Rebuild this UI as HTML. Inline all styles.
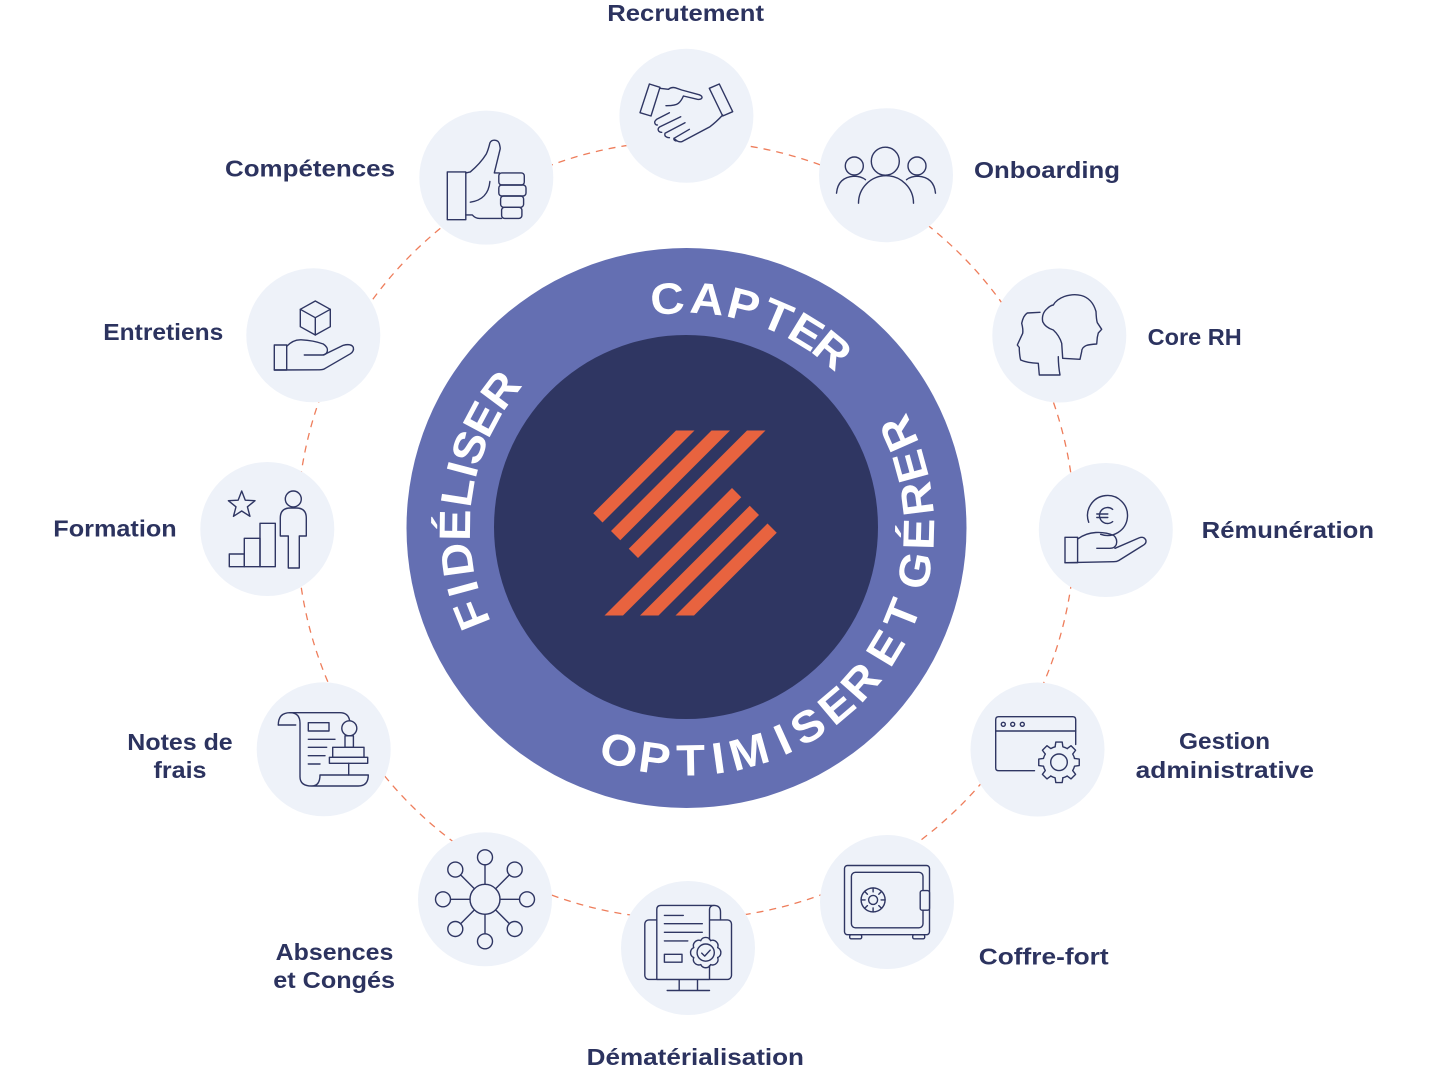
<!DOCTYPE html>
<html>
<head>
<meta charset="utf-8">
<style>
html,body{margin:0;padding:0;background:#ffffff;}
svg{display:block;}
.lbl{font-family:"Liberation Sans",Arial,sans-serif;font-weight:bold;font-size:23px;fill:#2c335f;}
.ring{font-family:"Liberation Sans",Arial,sans-serif;font-weight:bold;font-size:44px;fill:#ffffff;}
.ic{fill:none;stroke:#2f3663;stroke-width:1.4;stroke-linecap:round;stroke-linejoin:round;}
</style>
</head>
<body>
<svg width="1431" height="1078" viewBox="0 0 1431 1078" xmlns="http://www.w3.org/2000/svg">
<defs>
  <path id="tooth" d="M15.52,-3.87 L20.25,-3.21 L20.25,3.21 L15.52,3.87 A16 16 0 0 1 13.72,8.24"/>
  <path id="scal" d="M12.01,-4.97 A5.5 5.5 0 0 1 12.01,4.97"/>
</defs>

<!-- dashed orbit -->
<circle cx="686" cy="530" r="389" fill="none" stroke="#ee7d5b" stroke-width="1.3" stroke-dasharray="7 6"/>

<!-- central ring -->
<circle cx="686.5" cy="528" r="280" fill="#646fb2"/>
<circle cx="686" cy="527" r="192" fill="#2f3662"/>

<!-- logo stripes -->
<g fill="#e8633f">
  <polygon points="676,430.5 694.5,430.5 602.5,522.5 593.25,513.25"/>
  <polygon points="711.5,430.5 730,430.5 620.25,540.25 611,531"/>
  <polygon points="747,430.5 765.5,430.5 638,558 628.75,548.75"/>
  <polygon points="623,615.5 604.5,615.5 732,488 741.25,497.25"/>
  <polygon points="658.5,615.5 640,615.5 749.75,505.75 759,515"/>
  <polygon points="694,615.5 675.5,615.5 767.5,523.5 776.75,532.75"/>
</g>

<!-- ring text -->
<g transform="translate(686.5,528)" class="ring" text-anchor="middle">
  <text transform="rotate(-4.8) scale(1.07,1)" y="-215">C</text>
  <text transform="rotate(5.2) scale(1.07,1)" y="-215">A</text>
  <text transform="rotate(14.4) scale(1.07,1)" y="-215">P</text>
  <text transform="rotate(23.2) scale(1.07,1)" y="-215">T</text>
  <text transform="rotate(31.4) scale(1.07,1)" y="-215">E</text>
  <text transform="rotate(39.3) scale(1.07,1)" y="-215">R</text>

  <text transform="rotate(248.1) scale(1.07,1)" y="-216.5">F</text>
  <text transform="rotate(254.8) scale(1.07,1)" y="-216.5">I</text>
  <text transform="rotate(262.1) scale(1.07,1)" y="-216.5">D</text>
  <text transform="rotate(270.7) scale(1.07,1)" y="-216.5">É</text>
  <text transform="rotate(279) scale(1.07,1)" y="-216.5">L</text>
  <text transform="rotate(284.7) scale(1.07,1)" y="-216.5">I</text>
  <text transform="rotate(290.4) scale(1.07,1)" y="-216.5">S</text>
  <text transform="rotate(298.1) scale(1.07,1)" y="-216.5">E</text>
  <text transform="rotate(306.6) scale(1.07,1)" y="-216.5">R</text>

  <text transform="rotate(16.9) scale(1.07,1)" y="247.5">O</text>
  <text transform="rotate(7.9) scale(1.07,1)" y="247.5">P</text>
  <text transform="rotate(-1) scale(1.07,1)" y="247.5">T</text>
  <text transform="rotate(-7.9) scale(1.07,1)" y="247.5">I</text>
  <text transform="rotate(-15.6) scale(1.07,1)" y="247.5">M</text>
  <text transform="rotate(-24.5) scale(1.07,1)" y="247.5">I</text>
  <text transform="rotate(-31.5) scale(1.07,1)" y="247.5">S</text>
  <text transform="rotate(-40.2) scale(1.07,1)" y="247.5">E</text>
  <text transform="rotate(-48.5) scale(1.07,1)" y="247.5">R</text>
  <text transform="rotate(-58.9) scale(1.07,1)" y="247.5">E</text>
  <text transform="rotate(-68.1) scale(1.07,1)" y="247.5">T</text>
  <text transform="rotate(-79.5) scale(1.07,1)" y="247.5">G</text>
  <text transform="rotate(-88.5) scale(1.07,1)" y="247.5">É</text>
  <text transform="rotate(-97.2) scale(1.07,1)" y="247.5">R</text>
  <text transform="rotate(-105.4) scale(1.07,1)" y="247.5">E</text>
  <text transform="rotate(-114) scale(1.07,1)" y="247.5">R</text>
</g>

<!-- satellite circles -->
<g fill="#eef2f9">
  <circle cx="686.4" cy="115.8" r="67"/>
  <circle cx="886" cy="175.2" r="67"/>
  <circle cx="1059.3" cy="335.5" r="67"/>
  <circle cx="1105.8" cy="530" r="67"/>
  <circle cx="1037.5" cy="749.5" r="67"/>
  <circle cx="887" cy="902" r="67"/>
  <circle cx="688" cy="948" r="67"/>
  <circle cx="485" cy="899.3" r="67"/>
  <circle cx="323.7" cy="749.3" r="67"/>
  <circle cx="267.3" cy="529" r="67"/>
  <circle cx="313.3" cy="335.3" r="67"/>
  <circle cx="486.3" cy="177.6" r="67"/>
</g>

<!-- Recrutement: handshake -->
<g class="ic" transform="translate(686.4,115.8)">
  <polygon points="-37,-31.8 -26.4,-28.5 -35.4,0.2 -46.4,-3.1"/>
  <polygon points="22.9,-27.5 32.9,-31.8 46.3,-4.1 36.3,0.2"/>
  <path d="M-26.4,-27.5 L-18,-26.5 Q-15,-29 -11,-28 L-4.7,-25.8 L13,-21 Q16.5,-19.5 15.3,-17.5 Q14,-16 11,-16.5 L-3,-19.8 Q-5,-15 -8,-12.5 Q-11,-10 -20.4,-10.1"/>
  <path d="M36.3,-0.8 Q30,6 23.6,10.9 L-4.7,25.9 Q-8,26.5 -10.4,24.2 Q-12,23 -12.4,22.5"/>
  <path d="M-17,-3.1 L-29.7,3.5 Q-33,6 -31,8.5 Q-30,9.5 -29,9.2"/>
  <path d="M-5.7,0.9 L-26.4,10.9 Q-29.5,13 -27.5,15.5 Q-26,16.8 -24.7,16.5"/>
  <path d="M-1.4,6.9 L-21.4,17.5 Q-22,20 -20.4,20.9 Q-19,22 -17,21.9"/>
  <path d="M3,13.5 L-12.4,22.5 Q-13,24.5 -10.4,25.2"/>
</g>

<!-- Onboarding: people -->
<g class="ic" transform="translate(886,175.2)">
  <circle cx="-0.7" cy="-14" r="14"/>
  <circle cx="-31.7" cy="-9.2" r="9"/>
  <circle cx="31" cy="-9.2" r="9"/>
  <path d="M-27.5,28 A27.5 27.5 0 0 1 27.5,28"/>
  <path d="M-49.5,18 Q-48,2 -32,1 Q-25,1 -20.5,4.5"/>
  <path d="M49.5,18 Q48,2 32,1 Q25,1 20.5,4.5"/>
</g>

<!-- Core RH: heads -->
<g class="ic" transform="translate(1059.3,335.5)">
  <path d="M3.4,22.8 L2.4,7.8 Q0,0 -6,-5.5 Q-14,-8 -16.6,-13.8 Q-18,-22 -12,-27 Q-9,-30 -6,-30.5 Q-3,-36 5,-39 Q14,-42 22,-40 Q33,-37 36.7,-24 Q37,-16 38,-12.8 L42.4,-6.2 L39,-2.5 L38,1.8 L37.4,8.5 Q30,9 27,10 Q22.4,12 22.4,16 L20.7,23.8 Z"/>
  <path d="M-19.3,-23.2 L-32,-22.5 Q-36,-20 -37.6,-12.2 Q-36,-6 -36.6,-2.2 L-42,9.5 L-40,12 L-40,14.5 Q-39.5,22 -38.6,24.5 Q-32,27.5 -21,27.8 L-20,39.5 L0.7,39.5 Q-1,30 -1,21.2"/>
</g>

<!-- Rémunération: coin in hand -->
<g class="ic" transform="translate(1105.8,530)">
  <path d="M-17.1,-7.7 A20 20 0 1 1 -5.1,4.3"/>
  <path d="M6.84,-20.63 A8 8 0 1 0 6.84,-8.37"/>
  <path d="M-9,-16 L2,-16 M-9,-12.5 L2,-12.5"/>
  <rect x="-40.8" y="7.3" width="12.6" height="25.4"/>
  <path d="M-28.2,9 Q-20,3 -10,2.5 Q0,2 8,5.5 Q12,9 10.5,14.5 Q9,18.3 4,18.3 L-9,18.3"/>
  <path d="M9.2,18.3 L33,8 Q38,6 40,10 Q41,13.5 37,15.5 L13,30.5 Q11,31.7 8,31.7 L-40.8,32.7"/>
</g>

<!-- Gestion administrative: window + gear -->
<g class="ic" transform="translate(1037.5,749.5)">
  <path d="M38.2,-5 L38.2,-29.8 Q38.2,-32.8 35.2,-32.8 L-38.8,-32.8 Q-41.8,-32.8 -41.8,-29.8 L-41.8,18.2 Q-41.8,21.2 -38.8,21.2 L-3,21.2"/>
  <path d="M-41.8,-18.5 L38.2,-18.5"/>
  <circle cx="-34.2" cy="-25.2" r="2"/>
  <circle cx="-24.8" cy="-25.2" r="2"/>
  <circle cx="-15.2" cy="-25.2" r="2"/>
  <g transform="translate(21.5,12.8)">
    <use href="#tooth"/>
    <use href="#tooth" transform="rotate(45)"/>
    <use href="#tooth" transform="rotate(90)"/>
    <use href="#tooth" transform="rotate(135)"/>
    <use href="#tooth" transform="rotate(180)"/>
    <use href="#tooth" transform="rotate(225)"/>
    <use href="#tooth" transform="rotate(270)"/>
    <use href="#tooth" transform="rotate(315)"/>
    <circle r="8.3"/>
  </g>
</g>

<!-- Coffre-fort: safe -->
<g class="ic" transform="translate(887,902)">
  <rect x="-42.5" y="-36.5" width="85" height="69.2" rx="3"/>
  <rect x="-35.6" y="-29.7" width="71.6" height="55.5" rx="4"/>
  <rect x="33.2" y="-11.4" width="9.3" height="19.6" rx="2" fill="#eef2f9"/>
  <circle cx="-13.9" cy="-2.1" r="12"/>
  <circle cx="-13.9" cy="-2.1" r="4.5"/>
  <g transform="translate(-13.9,-2.1)">
    <path d="M0,-8 L0,-12 M0,8 L0,12 M-8,0 L-12,0 M8,0 L12,0 M5.7,-5.7 L8.5,-8.5 M-5.7,-5.7 L-8.5,-8.5 M5.7,5.7 L8.5,8.5 M-5.7,5.7 L-8.5,8.5"/>
  </g>
  <rect x="-37.3" y="32.7" width="12" height="4.1" rx="1.5"/>
  <rect x="25.7" y="32.7" width="12" height="4.1" rx="1.5"/>
</g>

<!-- Dématérialisation: monitor + document -->
<g class="ic" transform="translate(688,948)">
  <rect x="-43.2" y="-28.1" width="86.7" height="59.5" rx="4"/>
  <path d="M-8.8,31.4 L-8.8,42.5 M9.5,31.4 L9.5,42.5 M-20.8,42.5 L21.5,42.5"/>
  <path fill="#eef2f9" d="M-31.2,31.4 L-31.2,-38.6 Q-31.2,-42.6 -27.2,-42.6 L26,-42.6 Q21.5,-42.6 21.5,-38 L21.5,31.4 Z"/>
  <path d="M26,-42.6 Q32.5,-42.6 32.5,-36 L32.5,-28.1"/>
  <path d="M-23.6,-32.6 L-4.7,-32.6 M-23.6,-24.3 L14.3,-24.3 M-23.6,-15.7 L14.3,-15.7 M-23.6,-7.1 L-0.2,-7.1"/>
  <rect x="-23.6" y="6.3" width="17.6" height="7.9"/>
  <g transform="translate(17.7,4.6)">
    <circle r="13" fill="#eef2f9" stroke="none"/>
    <use href="#scal"/>
    <use href="#scal" transform="rotate(45)"/>
    <use href="#scal" transform="rotate(90)"/>
    <use href="#scal" transform="rotate(135)"/>
    <use href="#scal" transform="rotate(180)"/>
    <use href="#scal" transform="rotate(225)"/>
    <use href="#scal" transform="rotate(270)"/>
    <use href="#scal" transform="rotate(315)"/>
    <circle r="8.6"/>
    <path d="M-4,0.5 L-1,3.5 L4.5,-2.5"/>
  </g>
</g>

<!-- Absences et Congés: network -->
<g class="ic" transform="translate(485,899.3)">
  <circle r="15"/>
  <g><path d="M0,-15 L0,-34.5"/><circle cy="-42" r="7.5"/></g>
  <g transform="rotate(45)"><path d="M0,-15 L0,-34.5"/><circle cy="-42" r="7.5"/></g>
  <g transform="rotate(90)"><path d="M0,-15 L0,-34.5"/><circle cy="-42" r="7.5"/></g>
  <g transform="rotate(135)"><path d="M0,-15 L0,-34.5"/><circle cy="-42" r="7.5"/></g>
  <g transform="rotate(180)"><path d="M0,-15 L0,-34.5"/><circle cy="-42" r="7.5"/></g>
  <g transform="rotate(225)"><path d="M0,-15 L0,-34.5"/><circle cy="-42" r="7.5"/></g>
  <g transform="rotate(270)"><path d="M0,-15 L0,-34.5"/><circle cy="-42" r="7.5"/></g>
  <g transform="rotate(315)"><path d="M0,-15 L0,-34.5"/><circle cy="-42" r="7.5"/></g>
</g>

<!-- Notes de frais: scroll + stamp -->
<g class="ic" transform="translate(323.7,749.3)">
  <path d="M-45.4,-24.3 Q-45.4,-36.6 -33.7,-36.6 L16.3,-36.6 Q24.6,-36.6 26,-28.5"/>
  <path d="M-45.4,-24.3 L-28,-24.3"/>
  <path d="M-33.7,-36.6 Q-23.7,-36.6 -23.7,-26 L-23.7,27.4 Q-23.7,36.7 -12,36.7 L34.6,36.7 Q44.6,36.7 44.6,25.7 L-3.7,25.7 Q-3.7,36.7 -12,36.7"/>
  <rect x="-15.4" y="-26.6" width="20.7" height="8.3"/>
  <path d="M-15.4,-10 L11.3,-10 M-15.4,-2 L3,-2 M-15.4,6.4 L1.3,6.4 M-15.4,14.7 L-3.7,14.7"/>
  <circle cx="25.6" cy="-21" r="7.5" fill="#eef2f9"/>
  <rect x="21.3" y="-13.5" width="8.4" height="11.5" fill="#eef2f9"/>
  <rect x="9" y="-2" width="31.3" height="10" fill="#eef2f9"/>
  <rect x="5.7" y="8" width="38.3" height="6" fill="#eef2f9"/>
  <path d="M25,14 L25,25.7"/>
</g>

<!-- Formation: star, bars, person -->
<g class="ic" transform="translate(267.3,529)">
  <polygon transform="translate(-25.6,-24)" points="0,-14 3.53,-4.85 13.31,-4.33 5.71,1.85 8.23,11.33 0,6 -8.23,11.33 -5.71,1.85 -13.31,-4.33 -3.53,-4.85"/>
  <rect x="-38" y="25" width="15" height="12.7"/>
  <rect x="-23" y="9.3" width="15.7" height="28.4"/>
  <rect x="-7.3" y="-5.7" width="15.3" height="43.4"/>
  <circle cx="26" cy="-30" r="8"/>
  <path d="M21,39 L21,7 L13,7 L13,-11 Q13,-21 23,-21 L29,-21 Q39,-21 39,-11 L39,7 L32,7 L32,39 Z"/>
</g>

<!-- Entretiens: cube in hand -->
<g class="ic" transform="translate(313.3,335.3)">
  <path d="M2,-34.3 L17,-26 L17,-8.6 L2,-0.3 L-13,-8.6 L-13,-26 Z"/>
  <path d="M-13,-26 L2,-17.6 L17,-26 M2,-17.6 L2,-0.3"/>
  <rect x="-39" y="9.7" width="12.4" height="25"/>
  <path d="M-26.6,11 Q-20,4 -12,4.5 Q0,5 10,8.7 Q15,12 14,16 Q13,19.7 9,19.7 L-9,19.7"/>
  <path d="M10,19.7 L30,10 Q38,8 40,12 Q41,16 37,18.5 L12,33 Q10,34.5 6,34.5 L-39,34.7"/>
</g>

<!-- Compétences: thumbs up -->
<g class="ic" transform="translate(486.3,177.6)">
  <rect x="-39" y="-5.7" width="18.5" height="47.8"/>
  <path d="M-20.5,-4.7 L-16,-5.7 Q-6,-14 0,-23.6 Q2,-28 3.6,-34.7 Q5,-37.5 8,-37.4 Q12,-37.3 13,-34 Q14,-30 13.9,-28.8 L8,-4.7 L13,-4.7"/>
  <rect x="12.5" y="-4.7" width="25.5" height="12.1" rx="3"/>
  <rect x="12.5" y="7.4" width="27.2" height="11" rx="3"/>
  <rect x="14.3" y="18.4" width="23" height="11.3" rx="3"/>
  <rect x="15.3" y="29.7" width="20.3" height="11.1" rx="3"/>
  <path d="M3.6,3.9 Q2,22 -16,24.6"/>
  <path d="M-20.5,37.3 L-14,37.3 Q-11,40.8 -7,40.8 L15.3,40.8"/>
</g>

<!-- labels -->
<g class="lbl">
  <text x="607.3" y="21" textLength="156.7" lengthAdjust="spacingAndGlyphs">Recrutement</text>
  <text x="974" y="178" textLength="146" lengthAdjust="spacingAndGlyphs">Onboarding</text>
  <text x="1147.7" y="345" textLength="94" lengthAdjust="spacingAndGlyphs">Core RH</text>
  <text x="1201.7" y="538" textLength="172.3" lengthAdjust="spacingAndGlyphs">Rémunération</text>
  <text x="1179" y="749" textLength="91" lengthAdjust="spacingAndGlyphs">Gestion</text>
  <text x="1135.7" y="778" textLength="178.3" lengthAdjust="spacingAndGlyphs">administrative</text>
  <text x="978.8" y="964.5" textLength="129.8" lengthAdjust="spacingAndGlyphs">Coffre-fort</text>
  <text x="586.7" y="1065" textLength="217.3" lengthAdjust="spacingAndGlyphs">Dématérialisation</text>
  <text x="275.7" y="960" textLength="117.6" lengthAdjust="spacingAndGlyphs">Absences</text>
  <text x="273.3" y="988" textLength="121.7" lengthAdjust="spacingAndGlyphs">et Congés</text>
  <text x="127.3" y="750" textLength="105.4" lengthAdjust="spacingAndGlyphs">Notes de</text>
  <text x="153.5" y="778" textLength="53" lengthAdjust="spacingAndGlyphs">frais</text>
  <text x="53.3" y="536.7" textLength="123.4" lengthAdjust="spacingAndGlyphs">Formation</text>
  <text x="103.3" y="340" textLength="120" lengthAdjust="spacingAndGlyphs">Entretiens</text>
  <text x="225" y="176.7" textLength="170" lengthAdjust="spacingAndGlyphs">Compétences</text>
</g>
</svg>
</body>
</html>
